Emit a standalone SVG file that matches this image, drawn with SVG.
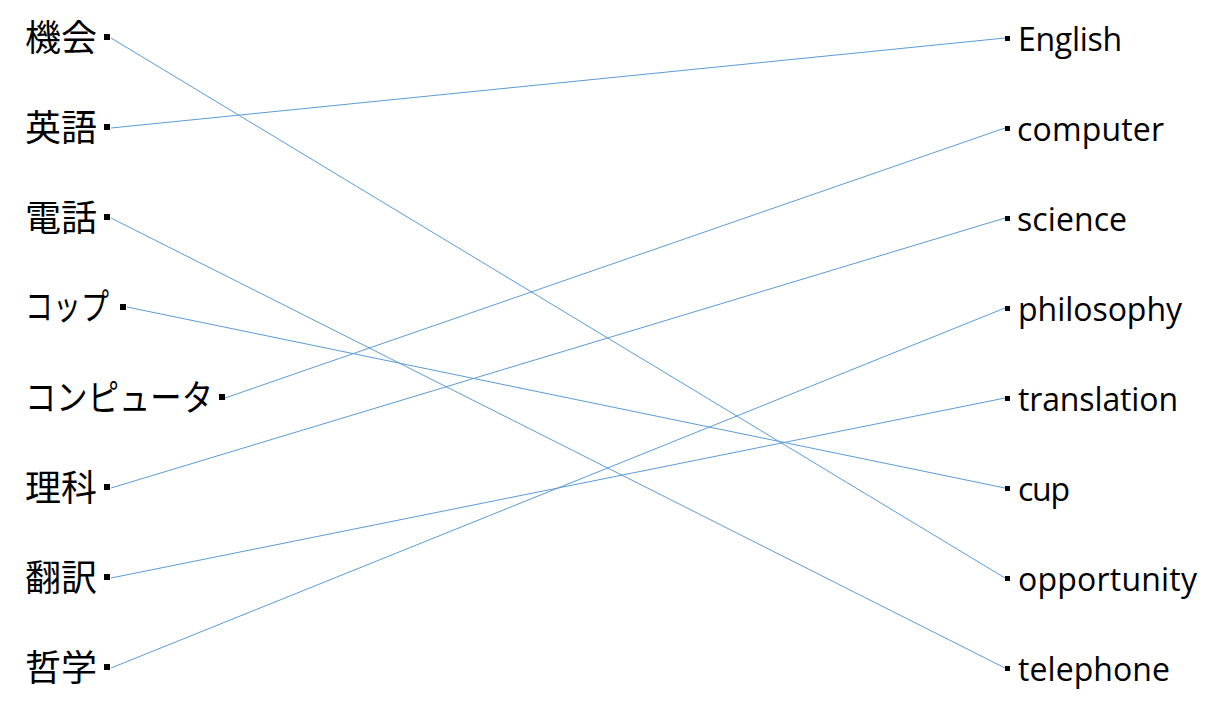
<svg xmlns="http://www.w3.org/2000/svg" width="1222" height="714" viewBox="0 0 1222 714">
<style>
.jp{font-family:"Noto Sans CJK JP","Noto Sans",sans-serif;font-size:36px;fill:#000}
.en{font-family:"Open Sans","Noto Sans",sans-serif;font-size:32px;fill:#000}
.sq{fill:#000}
.ln{stroke:#5B9BD5;stroke-width:1;fill:none}
</style>
<rect width="1222" height="714" fill="#fff"/>
<g id="connectors" class="ln">
<line x1="111" y1="38" x2="1005" y2="578"/>
<line x1="111" y1="128" x2="1005" y2="38"/>
<line x1="111" y1="218" x2="1005" y2="668"/>
<line x1="127" y1="307" x2="1005" y2="488"/>
<line x1="225" y1="398" x2="1005" y2="128"/>
<line x1="111" y1="488" x2="1005" y2="218"/>
<line x1="111" y1="578" x2="1005" y2="398"/>
<line x1="111" y1="668" x2="1005" y2="308"/>
</g>
<g id="l1"><text class="jp" x="25" y="51" textLength="72">機会</text><rect class="sq" x="104" y="34" width="6" height="6"/></g>
<g id="l2"><text class="jp" x="25" y="141" textLength="72">英語</text><rect class="sq" x="104" y="124" width="6" height="6"/></g>
<g id="l3"><text class="jp" x="25" y="231" textLength="72">電話</text><rect class="sq" x="104" y="214" width="6" height="6"/></g>
<g id="l4"><text class="jp" x="25" y="320" textLength="84" lengthAdjust="spacingAndGlyphs">コップ</text><rect class="sq" x="120" y="304" width="6" height="6"/></g>
<g id="l5"><text class="jp" x="25" y="411" textLength="188" lengthAdjust="spacingAndGlyphs">コンピュータ</text><rect class="sq" x="219" y="394" width="6" height="6"/></g>
<g id="l6"><text class="jp" x="25" y="501" textLength="72">理科</text><rect class="sq" x="104" y="484" width="6" height="6"/></g>
<g id="l7"><text class="jp" x="25" y="591" textLength="72">翻訳</text><rect class="sq" x="104" y="574" width="6" height="6"/></g>
<g id="l8"><text class="jp" x="25" y="681" textLength="72">哲学</text><rect class="sq" x="104" y="664" width="6" height="6"/></g>
<g id="r1"><rect class="sq" x="1005" y="36" width="5" height="5"/><text class="en" x="1018" y="51" textLength="104">English</text></g>
<g id="r2"><rect class="sq" x="1005" y="126" width="5" height="5"/><text class="en" x="1017" y="141" textLength="147">computer</text></g>
<g id="r3"><rect class="sq" x="1005" y="216" width="5" height="5"/><text class="en" x="1017" y="231" textLength="110">science</text></g>
<g id="r4"><rect class="sq" x="1005" y="306" width="5" height="5"/><text class="en" x="1018" y="321" textLength="164">philosophy</text></g>
<g id="r5"><rect class="sq" x="1005" y="396" width="5" height="5"/><text class="en" x="1018" y="411" textLength="160">translation</text></g>
<g id="r6"><rect class="sq" x="1005" y="486" width="5" height="5"/><text class="en" x="1018" y="501" textLength="52">cup</text></g>
<g id="r7"><rect class="sq" x="1005" y="576" width="5" height="5"/><text class="en" x="1018" y="591" textLength="179">opportunity</text></g>
<g id="r8"><rect class="sq" x="1005" y="666" width="5" height="5"/><text class="en" x="1018" y="681" textLength="152">telephone</text></g>
</svg>
